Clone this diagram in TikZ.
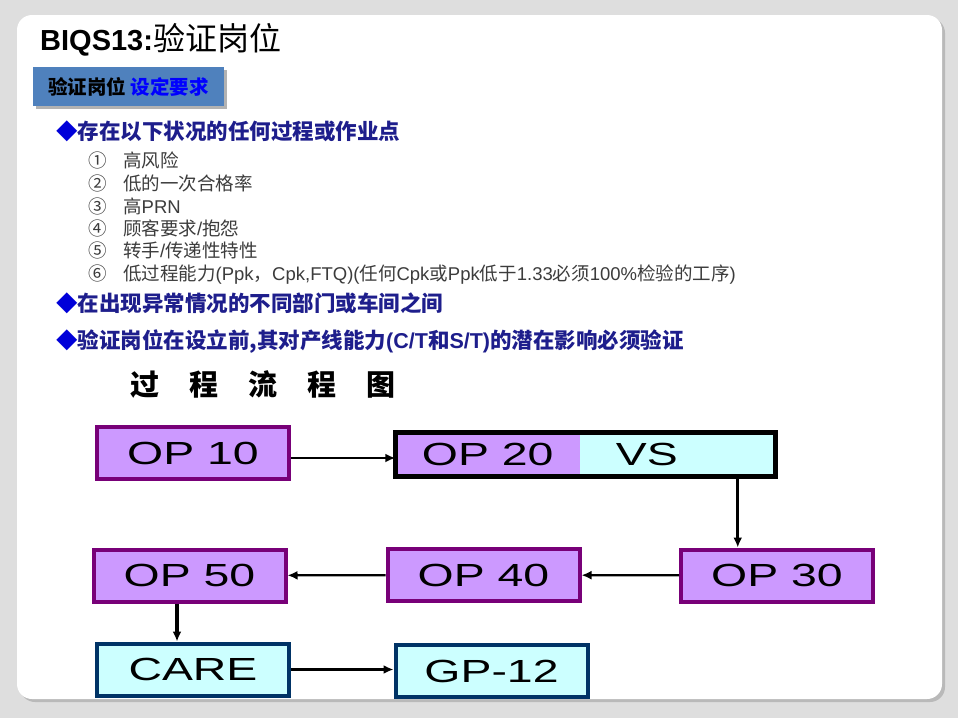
\documentclass[tikz,border=0pt]{standalone}
\usepackage{fontspec}
\setmainfont{Noto Sans CJK SC}
\newfontfamily\ar{Liberation Sans}
\newfontfamily\opfont[FakeStretch=1.45]{Liberation Sans}
\newcommand{\artxt}[1]{{\ar #1}}
\usetikzlibrary{arrows.meta,shadows}
\definecolor{opfill}{RGB}{204,153,255}
\definecolor{opline}{RGB}{120,0,120}
\definecolor{vsfill}{RGB}{204,255,255}
\definecolor{careline}{RGB}{0,51,102}
\definecolor{tagblue}{RGB}{79,129,189}
\definecolor{navy}{RGB}{30,30,140}
\definecolor{itemgray}{RGB}{60,60,60}
\definecolor{backgray}{RGB}{222,222,222}

\begin{document}
\begin{tikzpicture}[x=1pt,y=-1pt]
        \tikzstyle{opbox}=[rectangle,draw=opline,fill=opfill,line width=4pt,inner sep=0pt,minimum width=192pt,minimum height=52pt,font=\opfont\fontsize{32}{32}\selectfont]
        \tikzstyle{endbox}=[opbox,draw=careline,fill=vsfill]
        \tikzstyle{halfbox}=[rectangle,inner sep=0pt,minimum height=44pt,font=\opfont\fontsize{32}{32}\selectfont]
        \tikzstyle{bullet}=[anchor=base west,inner sep=0pt,text=navy,font=\bfseries\fontsize{21.5}{21.5}\selectfont]
        \tikzstyle{item}=[anchor=base west,inner sep=0pt,text=itemgray,font=\fontsize{18.5}{18.5}\selectfont]
        \tikzstyle{edge}=[line width=2.2pt,-{Latex[length=10pt,width=9pt]}]
        \tikzstyle{vedge}=[edge,line width=3.2pt]
        \useasboundingbox (0,0) rectangle (958,718);
        \fill[backgray] (0,0) rectangle (958,718);
        \fill[gray!55,rounded corners=15pt] (20,18) rectangle (945,702);
        \fill[white,rounded corners=15pt] (17,15) rectangle (942,699);

        \node[anchor=base west,inner sep=0pt] (title) at (40,50) {\fontsize{29}{29}\selectfont{\ar\bfseries BIQS13:}\fontsize{32}{32}\selectfont 验证岗位};
        \node[rectangle,fill=tagblue,minimum width=191pt,minimum height=39pt,inner sep=0pt,drop shadow={shadow xshift=3pt,shadow yshift=-3pt,opacity=0.6},font=\bfseries\fontsize{19.5}{19.5}\selectfont] (tag) at (128.5,86.5) {验证岗位 \textcolor{blue}{设定要求}};

        \node[bullet] (b1) at (56,139) {\textcolor{blue!85!black}{◆}存在以下状况的任何过程或作业点};
        \node[item] (i1) at (88,167) {\makebox[35pt][l]{①}高风险};
        \node[item] (i2) at (88,190) {\makebox[35pt][l]{②}低的一次合格率};
        \node[item] (i3) at (88,213) {\makebox[35pt][l]{③}高\artxt{PRN}};
        \node[item] (i4) at (88,235) {\makebox[35pt][l]{④}顾客要求\artxt{/}抱怨};
        \node[item] (i5) at (88,257) {\makebox[35pt][l]{⑤}转手\artxt{/}传递性特性};
        \node[item] (i6) at (88,280) {\makebox[35pt][l]{⑥}低过程能力\artxt{(Ppk}，\artxt{Cpk,FTQ)(}任何\artxt{Cpk}或\artxt{Ppk}低于\artxt{1.33}必须\artxt{100\%}检验的工序\artxt{)}};
        \node[bullet] (b2) at (56,311) {\textcolor{blue!85!black}{◆}在出现异常情况的不同部门或车间之间};
        \node[bullet] (b3) at (56,348) {\textcolor{blue!85!black}{◆}验证岗位在设立前,其对产线能力\artxt{(C/T}和\artxt{S/T)}的潜在影响必须验证};

        \node[anchor=base west,inner sep=0pt,font=\bfseries\fontsize{29}{29}\selectfont] (flow) at (130,395) {\spaceskip=30pt 过 程 流 程 图};

        \node[opbox] (op10) at (193,453) {OP 10};
        \node[halfbox,fill=opfill,minimum width=184.5pt] (op20) at (487.75,454.5) {OP 20};
        \node[halfbox,fill=vsfill,minimum width=195.5pt,label={[xshift=-31pt,font=\opfont\fontsize{32}{32}\selectfont]center:VS}] (vs) at (677.75,454.5) {};
        \draw[line width=5pt] (op20.north west) rectangle (vs.south east);
        \node[opbox] (op30) at (777,575.5) {OP 30};
        \node[opbox] (op40) at (483.5,575) {OP 40};
        \node[opbox] (op50) at (189.5,575.5) {OP 50};
        \node[endbox] (care) at (193,669.5) {CARE};
        \node[endbox] (gp12) at (491.5,671) {GP-12};

        \draw[edge] ([yshift=-5pt]op10.east) -- ([yshift=-5pt]op10.east -| op20.west);
        \draw[vedge] ([xshift=60pt]vs.south) -- ([xshift=60pt]vs.south |- op30.north);
        \draw[edge] (op30) -- (op40);
        \draw[edge] (op40) -- (op50);
        \draw[vedge] ([xshift=-12.5pt]op50.south) -- ([xshift=-12.5pt]op50.south |- care.north);
        \draw[edge] (care.east) -- (care.east -| gp12.west);
\end{tikzpicture}
\end{document}
